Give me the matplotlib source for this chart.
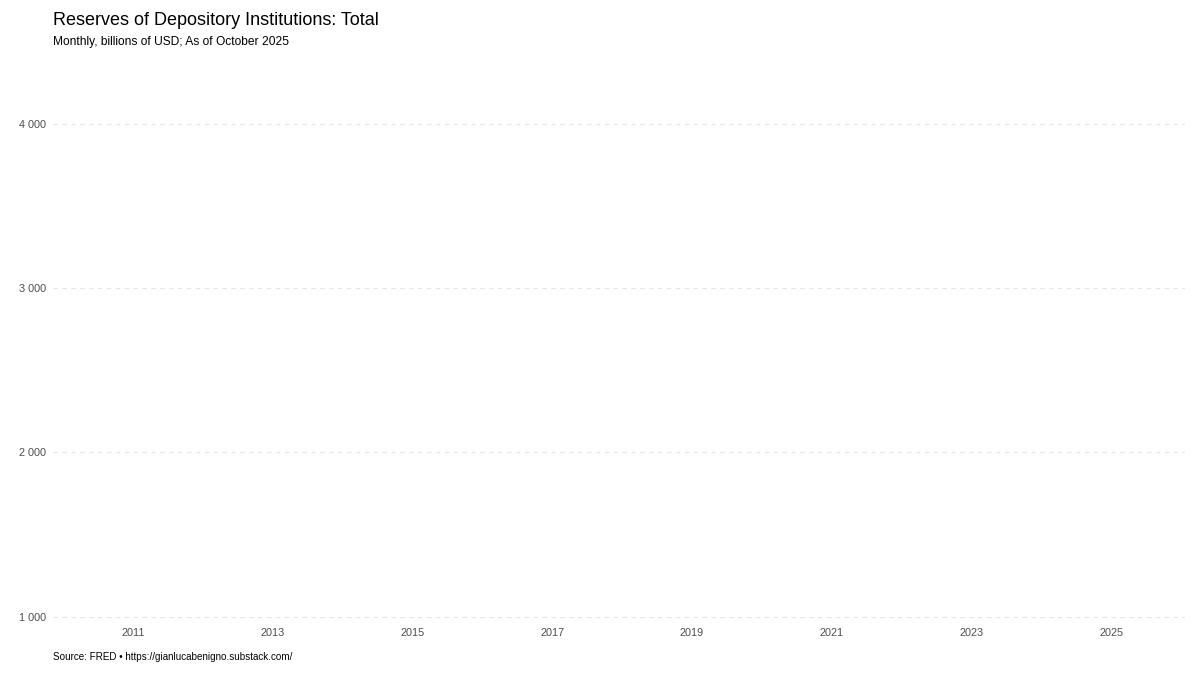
import matplotlib.pyplot as plt
import matplotlib.dates as mdates
import numpy as np
from datetime import date

plt.rcParams['font.family'] = ['Liberation Sans', 'DejaVu Sans']

# Chart texts
title = "Reserves of Depository Institutions: Total"
subtitle = "Monthly, billions of USD; As of October 2025"
caption = "Source: FRED \u2022 https://gianlucabenigno.substack.com/"

# Axis content (the series itself is not visible in the reference)
x_tick_years = [2011, 2013, 2015, 2017, 2019, 2021, 2023, 2025]
y_ticks = [1000, 2000, 3000, 4000]
x_range = [date(2009, 11, 10), date(2026, 1, 20)]
y_range = [980, 4390]

fig = plt.figure(figsize=(12, 6.75), dpi=100)
ax = fig.add_axes([53 / 1200, 1 - 620 / 675, (1185 - 53) / 1200, (620 - 60) / 675])

ax.set_xlim(mdates.date2num(x_range[0]), mdates.date2num(x_range[1]))
ax.set_ylim(*y_range)

ax.set_xticks([mdates.date2num(date(y, 1, 1)) for y in x_tick_years])
ax.set_xticklabels([str(y) for y in x_tick_years])
ax.set_yticks(y_ticks)
ax.set_yticklabels([f"{v:,}".replace(",", " ") for v in y_ticks])

for s in ax.spines.values():
    s.set_visible(False)
ax.tick_params(axis='both', length=0, labelsize=7.8, colors='#4d4d4d')
ax.tick_params(axis='x', pad=5.5)
ax.tick_params(axis='y', pad=5)
ax.grid(axis='y', color='#e6e6e6', linestyle=(0, (4, 4)), linewidth=0.8)
ax.grid(axis='x', visible=False)

fig.text(53 / 1200, 1 - 20.5 / 675, title, fontsize=13, va='center', ha='left', color='black')
fig.text(53 / 1200, 1 - 42.5 / 675, subtitle, fontsize=8.65, va='center', ha='left', color='black')
fig.text(53 / 1200, 1 - 657.5 / 675, caption, fontsize=7.15, va='center', ha='left', color='black')

fig.savefig("out.png", dpi=100, facecolor='white')
